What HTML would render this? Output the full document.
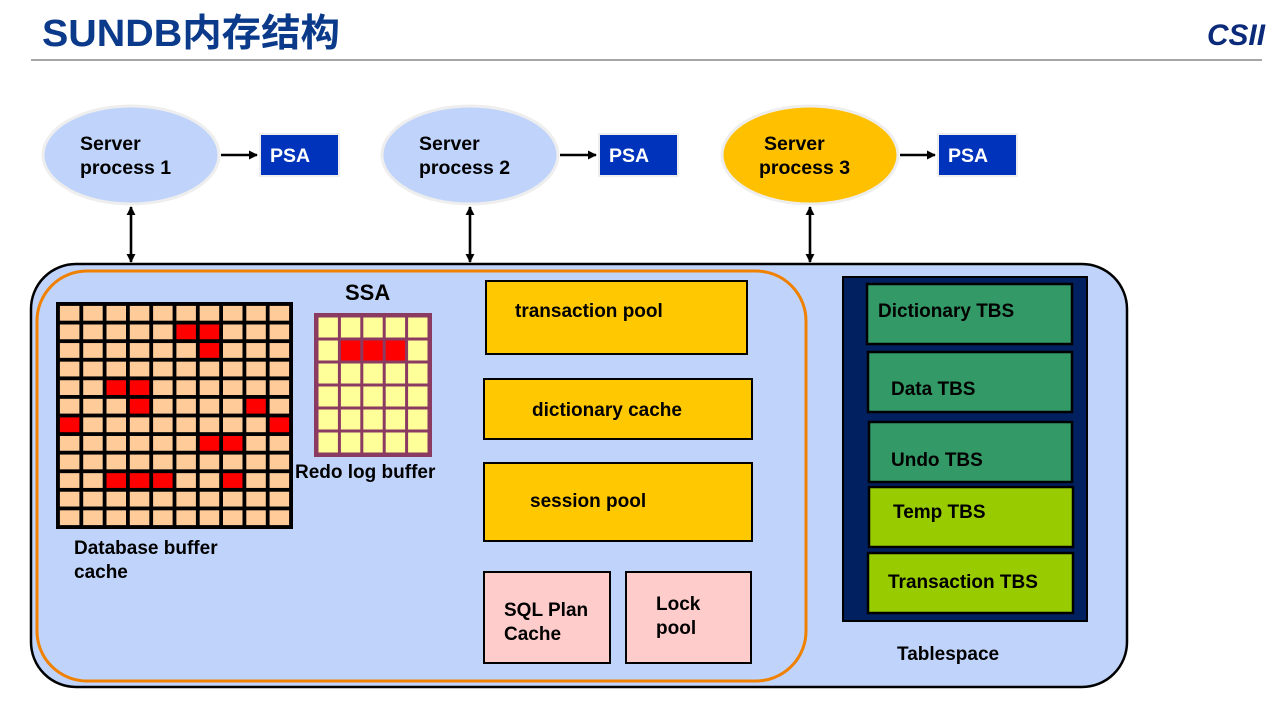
<!DOCTYPE html>
<html><head><meta charset="utf-8"><style>
body{margin:0;background:#fff;}
svg{display:block;font-family:"Liberation Sans","Noto Sans CJK SC",sans-serif;}
</style></head><body>
<svg width="1277" height="704" viewBox="0 0 1277 704" xmlns="http://www.w3.org/2000/svg">
<defs>
<marker id="ah" viewBox="0 0 10 10" refX="9" refY="5" markerWidth="3.5" markerHeight="3.5" orient="auto-start-reverse"><path d="M0,0 L10,5 L0,10 z" fill="#000"/></marker>
</defs>
<text x="42" y="46" font-size="38" font-weight="bold" fill="#0B3A8A" textLength="298" lengthAdjust="spacingAndGlyphs" font-family="Liberation Sans,Noto Sans CJK SC,sans-serif">SUNDB内存结构</text>
<text x="1207" y="45" font-size="30" font-weight="bold" font-style="italic" fill="#0B2A7A" textLength="58" lengthAdjust="spacingAndGlyphs">CSII</text>
<line x1="31" y1="60" x2="1262" y2="60" stroke="#888" stroke-width="1.5"/>

<g font-size="19.5" font-weight="bold">
<ellipse cx="131" cy="155" rx="88" ry="49" fill="#C0D4FB" stroke="#eee" stroke-width="3"/>
<text x="80" y="150">Server</text><text x="80" y="174">process 1</text>
<ellipse cx="470" cy="155" rx="88" ry="49" fill="#C0D4FB" stroke="#eee" stroke-width="3"/>
<text x="419" y="150">Server</text><text x="419" y="174">process 2</text>
<ellipse cx="810" cy="155" rx="88" ry="49" fill="#FFC000" stroke="#eee" stroke-width="3"/>
<text x="764" y="150">Server</text><text x="759" y="174">process 3</text>
</g>
<g font-size="19.5" font-weight="bold" fill="#fff">
<rect x="260" y="134" width="79" height="42" fill="#0033BB" stroke="#eee" stroke-width="2"/><text x="270" y="162">PSA</text>
<rect x="599" y="134" width="79" height="42" fill="#0033BB" stroke="#eee" stroke-width="2"/><text x="609" y="162">PSA</text>
<rect x="938" y="134" width="79" height="42" fill="#0033BB" stroke="#eee" stroke-width="2"/><text x="948" y="162">PSA</text>
</g>
<g stroke="#000" stroke-width="2.6">
<line x1="221" y1="155" x2="257" y2="155" marker-end="url(#ah)"/>
<line x1="560" y1="155" x2="596" y2="155" marker-end="url(#ah)"/>
<line x1="900" y1="155" x2="935" y2="155" marker-end="url(#ah)"/>
<line x1="131" y1="207" x2="131" y2="262" marker-start="url(#ah)" marker-end="url(#ah)"/>
<line x1="470" y1="207" x2="470" y2="262" marker-start="url(#ah)" marker-end="url(#ah)"/>
<line x1="810" y1="207" x2="810" y2="262" marker-start="url(#ah)" marker-end="url(#ah)"/>
</g>

<rect x="31" y="264" width="1096" height="423" rx="45" fill="#C0D4FB" stroke="#000" stroke-width="2.5"/>
<rect x="37" y="271" width="769" height="410" rx="50" fill="none" stroke="#F08000" stroke-width="3"/>
<text x="345" y="300" font-size="22" font-weight="bold">SSA</text>

<rect x="56" y="302" width="237" height="227" fill="#000"/>
<g id="g1"></g>
<rect x="314" y="313" width="118" height="144" fill="#8B3A62"/>
<g id="g2"></g>

<g font-size="19" font-weight="bold">
<text x="74" y="554">Database buffer</text><text x="74" y="578">cache</text>
<text x="295" y="478">Redo log buffer</text>
</g>

<g stroke="#000" stroke-width="2">
<rect x="486" y="281" width="261" height="73" fill="#FFC800"/>
<rect x="484" y="379" width="268" height="60" fill="#FFC800"/>
<rect x="484" y="463" width="268" height="78" fill="#FFC800"/>
<rect x="484" y="572" width="126" height="91" fill="#FFCCCC"/>
<rect x="626" y="572" width="125" height="91" fill="#FFCCCC"/>
</g>
<g font-size="19" font-weight="bold">
<text x="515" y="317">transaction pool</text>
<text x="532" y="416">dictionary cache</text>
<text x="530" y="507">session pool</text>
<text x="504" y="616">SQL Plan</text><text x="504" y="640">Cache</text>
<text x="656" y="610">Lock</text><text x="656" y="634">pool</text>
</g>

<rect x="843" y="277" width="244" height="344" fill="#002060" stroke="#000" stroke-width="2"/>
<g stroke="#000" stroke-width="2.5">
<rect x="867" y="284" width="205" height="60" fill="#339966"/>
<rect x="868" y="352" width="204" height="60" fill="#339966"/>
<rect x="869" y="422" width="203" height="60" fill="#339966"/>
<rect x="869" y="487" width="204" height="60" fill="#99CC00"/>
<rect x="868" y="553" width="205" height="60" fill="#99CC00"/>
</g>
<g font-size="19" font-weight="bold">
<text x="878" y="317">Dictionary TBS</text>
<text x="891" y="395">Data TBS</text>
<text x="891" y="466">Undo TBS</text>
<text x="893" y="518">Temp TBS</text>
<text x="888" y="588">Transaction TBS</text>
<text x="897" y="660">Tablespace</text>
</g>
</svg>
<script>
(function(){
var ns="http://www.w3.org/2000/svg";
function grid(id,x0,y0,w,h,cols,rows,fill,reds,gap){
 var g=document.getElementById(id);
 var cw=w/cols,rh=h/rows;
 for(var r=0;r<rows;r++)for(var c=0;c<cols;c++){
  var e=document.createElementNS(ns,"rect");
  e.setAttribute("x",x0+c*cw+gap);e.setAttribute("y",y0+r*rh+gap);
  e.setAttribute("width",cw-gap*2);e.setAttribute("height",rh-gap*2);
  e.setAttribute("fill",reds.indexOf(r+","+c)>=0?"#FF0000":fill);
  g.appendChild(e);
 }
}
grid("g1",58,304,233,223,10,12,"#FFCC99",["1,5","1,6","2,6","4,2","4,3","5,3","5,8","6,0","6,9","7,6","7,7","9,2","9,3","9,4","9,7"],1.9);
grid("g2",317,316,112,138,5,6,"#FFFF99",["1,1","1,2","1,3"],1.5);
})();
</script>
</body></html>
